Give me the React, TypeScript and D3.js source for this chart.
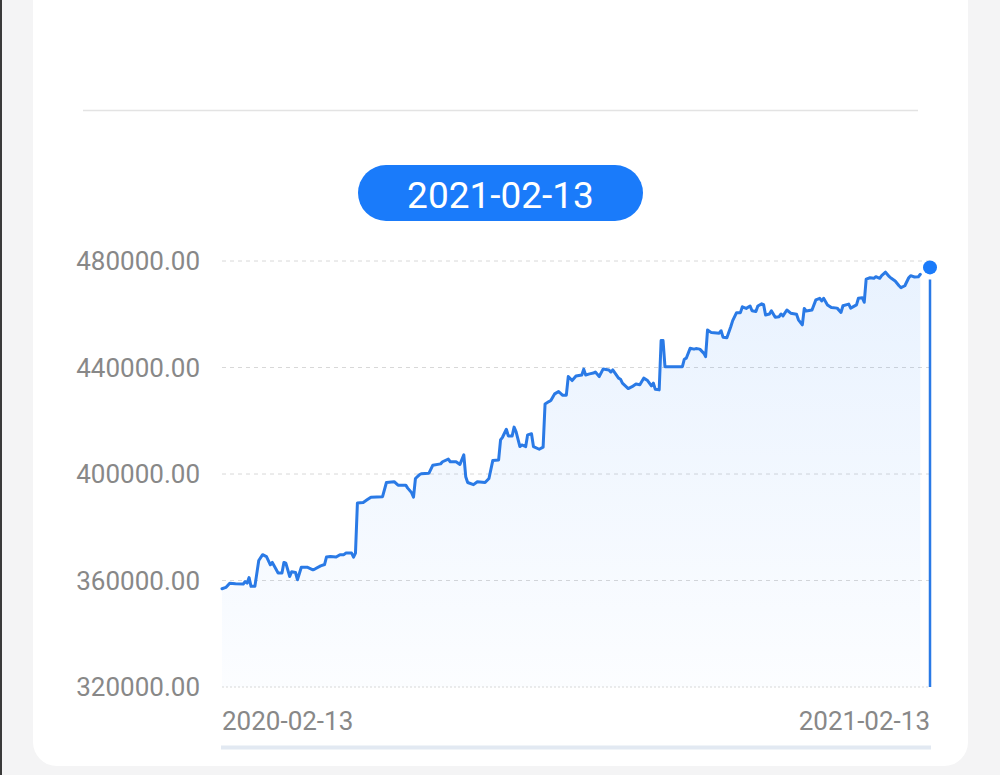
import React from 'react';
import * as d3 from 'd3';

// selected range / labels
const startDate = new Date(2020, 1, 13);
const endDate = new Date(2021, 1, 13);
const selectedLabel = '2021-02-13';
const xTickLabels = ['2020-02-13', '2021-02-13'];
const yTicks = [320000, 360000, 400000, 440000, 480000];

// days after 2020-02-13
const dayOffsets = [
  0, 2, 4, 7, 11, 12, 13, 14, 15, 17, 19, 21, 23, 25, 26, 29, 31, 32, 33, 35,
  36, 38, 39, 41, 44, 47, 48, 51, 53, 54, 56, 59, 61, 63, 64, 67, 68, 69, 70, 73,
  75, 77, 83, 85, 89, 91, 95, 96, 98, 99, 100, 102, 103, 107, 109, 113, 114, 117, 118, 121,
  123, 125, 126, 127, 130, 132, 136, 138, 140, 143, 144, 145, 147, 148, 150, 151, 152, 154, 155, 157,
  158, 160, 161, 164, 166, 167, 169, 170, 172, 174, 176, 178, 179, 181, 183, 186, 187, 188, 190, 192,
  193, 195, 197, 200, 201, 202, 205, 206, 207, 210, 212, 214, 216, 218, 220, 222, 223, 224, 226, 227,
  228, 229, 238, 239, 240, 242, 244, 245, 247, 249, 250, 251, 253, 257, 258, 259, 261, 263, 264, 266,
  268, 269, 271, 273, 274, 276, 277, 279, 280, 281, 283, 284, 286, 288, 289, 290, 292, 294, 297, 298,
  300, 301, 302, 305, 307, 309, 310, 311, 313, 315, 318, 320, 321, 324, 325, 328, 329, 331, 332, 333,
  335, 337, 338, 340, 341, 343, 345, 346, 348, 350, 351, 353, 355, 356, 358, 360, 361,
];

const values = [
  356900, 357400, 359000, 358800, 358700, 359600, 359000, 361100, 357800, 357800, 367500, 369700, 369000, 365900, 366800, 362800, 362800, 366800, 366500, 361500,
  363300, 363000, 360300, 365000, 365000, 364000, 364300, 365500, 366000, 368800, 369000, 368800, 369700, 369700, 370300, 370300, 368800, 370300, 389100, 389300,
  390300, 391300, 391500, 396800, 397100, 395800, 395800, 394700, 393000, 391300, 398300, 399700, 400100, 400300, 403300, 403800, 404600, 405600, 404600, 404600,
  403600, 407200, 399000, 396800, 396000, 397100, 396800, 398300, 405100, 405300, 412800, 413800, 416800, 414300, 414300, 417600, 415900, 410300, 410900, 410300,
  414700, 415100, 410300, 409300, 410100, 426300, 427200, 427600, 430100, 431000, 429600, 429600, 436600, 435100, 436800, 437200, 439400, 437200, 437600, 437900,
  438300, 436600, 439400, 439100, 438300, 439100, 436000, 435600, 434100, 432100, 432800, 433800, 433500, 436000, 435100, 433100, 434100, 431800, 431600, 450100,
  450100, 440300, 440300, 443100, 443500, 447200, 446900, 447100, 446900, 445400, 444100, 454100, 453100, 452900, 453800, 451400, 451200, 455300, 457600, 460600,
  460600, 462800, 462200, 463100, 461300, 461000, 463100, 463900, 463600, 459700, 460100, 461300, 458900, 459100, 460100, 459400, 461600, 460400, 460000, 457900,
  456000, 462200, 461200, 461600, 465400, 466000, 465000, 466000, 463500, 462500, 462300, 460700, 463200, 463800, 462300, 463500, 466000, 466200, 464500, 473200,
  473700, 473500, 474100, 473500, 474500, 475800, 474100, 473500, 472500, 470700, 470000, 470700, 473700, 474500, 474000, 474100, 475000,
];

const markerValue = 477600;

const W = 1000;
const H = 775;
const FONT = 'Roboto, "Noto Sans", sans-serif';

const App: React.FC = () => {
  const data = dayOffsets.map((d, i) => ({
    date: d3.timeDay.offset(startDate, d),
    value: values[i],
  }));

  const x = d3.scaleTime().domain([startDate, endDate]).range([222, 930]);
  const y = d3.scaleLinear().domain([320000, 480000]).range([687, 261]);

  const line = d3.line<{ date: Date; value: number }>()
    .x(d => x(d.date))
    .y(d => y(d.value));

  const area = d3.area<{ date: Date; value: number }>()
    .x(d => x(d.date))
    .y0(y(320000))
    .y1(d => y(d.value));

  const mx = x(endDate);
  const my = y(markerValue);

  return (
    <svg
      width={W}
      height={H}
      style={{ position: 'absolute', left: 0, top: 0, display: 'block' }}
      fontFamily={FONT}
    >
      <defs>
        <linearGradient id="areaFill" gradientUnits="userSpaceOnUse" x1="0" y1={y(480000)} x2="0" y2={y(320000)}>
          <stop offset="0%" stopColor="#1a7bfa" stopOpacity={0.1} />
          <stop offset="100%" stopColor="#1a7bfa" stopOpacity={0.015} />
        </linearGradient>
      </defs>

      {/* page + card */}
      <rect x={0} y={0} width={W} height={H} fill="#f4f4f5" />
      <rect x={0} y={0} width={2} height={H} fill="#3a3a3a" />
      <rect x={33} y={-40} width={935} height={806} rx={24} fill="#ffffff" />
      <line x1={83} x2={918} y1={110.5} y2={110.5} stroke="#e3e3e3" strokeWidth={1.5} />

      {/* selected date pill */}
      <rect x={358} y={165} width={285} height={56} rx={28} fill="#1a7bfa" />
      <text x={500.5} y={207.5} textAnchor="middle" fill="#ffffff" fontSize={37}>
        {selectedLabel}
      </text>

      {/* grid + y labels */}
      {yTicks.map((t, i) => (
        <g key={t}>
          <line
            x1={222}
            x2={930}
            y1={y(t)}
            y2={y(t)}
            stroke="#d8d8d8"
            strokeWidth={1}
            strokeDasharray={i === 0 ? '2,2' : '4,4'}
          />
          <text x={200} y={y(t) + 9} textAnchor="end" fill="#888888" fontSize={26}>
            {d3.format('.2f')(t)}
          </text>
        </g>
      ))}

      {/* series */}
      <path d={area(data) || ''} fill="url(#areaFill)" />
      <path
        d={line(data) || ''}
        fill="none"
        stroke="#2a7ae6"
        strokeWidth={3}
        strokeLinejoin="round"
        strokeLinecap="round"
      />

      {/* marker */}
      <line x1={mx} x2={mx} y1={my + 12} y2={y(320000)} stroke="#2a7ae6" strokeWidth={2.5} />
      <circle cx={mx} cy={my} r={7} fill="#1a7bfa" />

      {/* x labels */}
      <text x={222} y={730} textAnchor="start" fill="#888888" fontSize={26}>
        {xTickLabels[0]}
      </text>
      <text x={930} y={730} textAnchor="end" fill="#888888" fontSize={26}>
        {xTickLabels[1]}
      </text>
      <rect x={221} y={745.5} width={710} height={4} fill="#e2e9f2" />
    </svg>
  );
};

export default App;
